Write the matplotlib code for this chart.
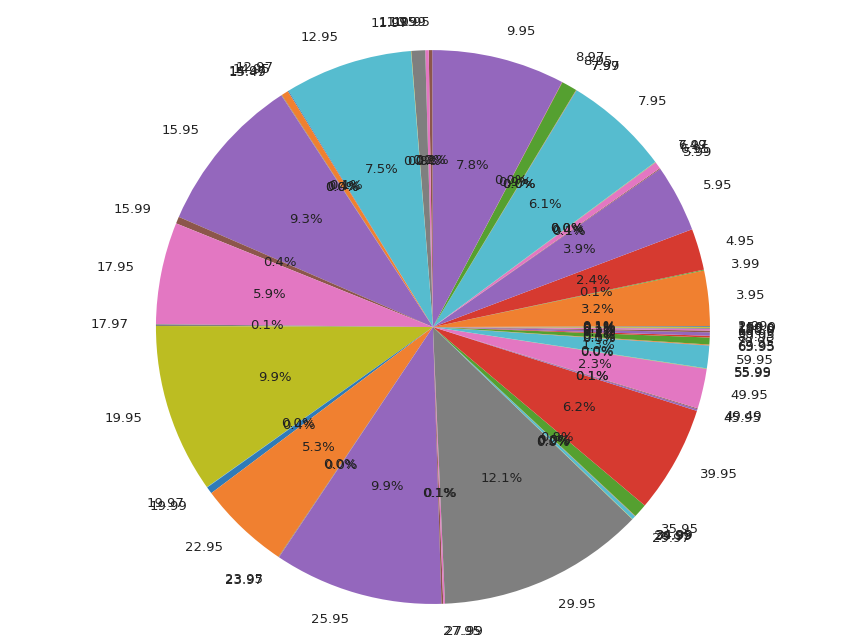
import matplotlib
matplotlib.use("Agg")
from matplotlib import pyplot as plt

# prices (labels) and their share, ascending order as drawn
prices = ["2.99", "3.95", "3.99", "4.95", "5.95", "5.99", "6.95", "6.97", "7.49", "7.95",
          "7.97", "7.99", "8.95", "8.97", "9.95", "10.95", "10.99", "11.95", "11.97", "12.95",
          "12.97", "14.95", "14.97", "15.49", "15.95", "15.99", "17.95", "17.97", "19.95", "19.97",
          "19.99", "22.95", "23.95", "23.97", "25.95", "27.95", "27.99", "29.95", "29.97", "29.99",
          "34.95", "34.99", "35.95", "39.95", "45.95", "49.49", "49.95", "55.95", "55.99", "59.95",
          "65.95", "69.95", "79.95", "89.95", "99.95", "100.0", "150.0", "199.0", "250.0"]
shares = [0.05, 3.2, 0.05, 2.4, 3.9, 0.05, 0.4, 0.02, 0.02, 6.1,
          0.02, 0.02, 0.9, 0.02, 7.7, 0.2, 0.2, 0.8, 0.02, 7.4,
          0.05, 0.4, 0.02, 0.02, 9.2, 0.4, 5.9, 0.1, 9.8, 0.02,
          0.4, 5.3, 0.02, 0.02, 9.8, 0.1, 0.1, 12.0, 0.02, 0.2,
          0.02, 0.02, 0.8, 6.2, 0.1, 0.05, 2.3, 0.02, 0.02, 1.3,
          0.02, 0.05, 0.4, 0.1, 0.2, 0.1, 0.1, 0.05, 0.05]

colors = ["#2f7bb8", "#f08030", "#55a030", "#d63a30", "#9467bd",
          "#8c564b", "#e377c2", "#7f7f7f", "#bcbd22", "#56bccf"]

fig = plt.figure(figsize=(8.62, 6.43), dpi=100)
ax = fig.add_axes([0, 0, 1, 1])
ax.pie(shares, labels=prices, autopct="%1.1f%%", colors=colors,
       textprops={"fontsize": 9.5, "color": "#222222"})
ax.set_aspect("auto")
ax.set_xlim(-1.563, 1.549)
ax.set_ylim(-1.141, 1.181)
ax.axis("off")

fig.savefig("out.png", dpi=100)
